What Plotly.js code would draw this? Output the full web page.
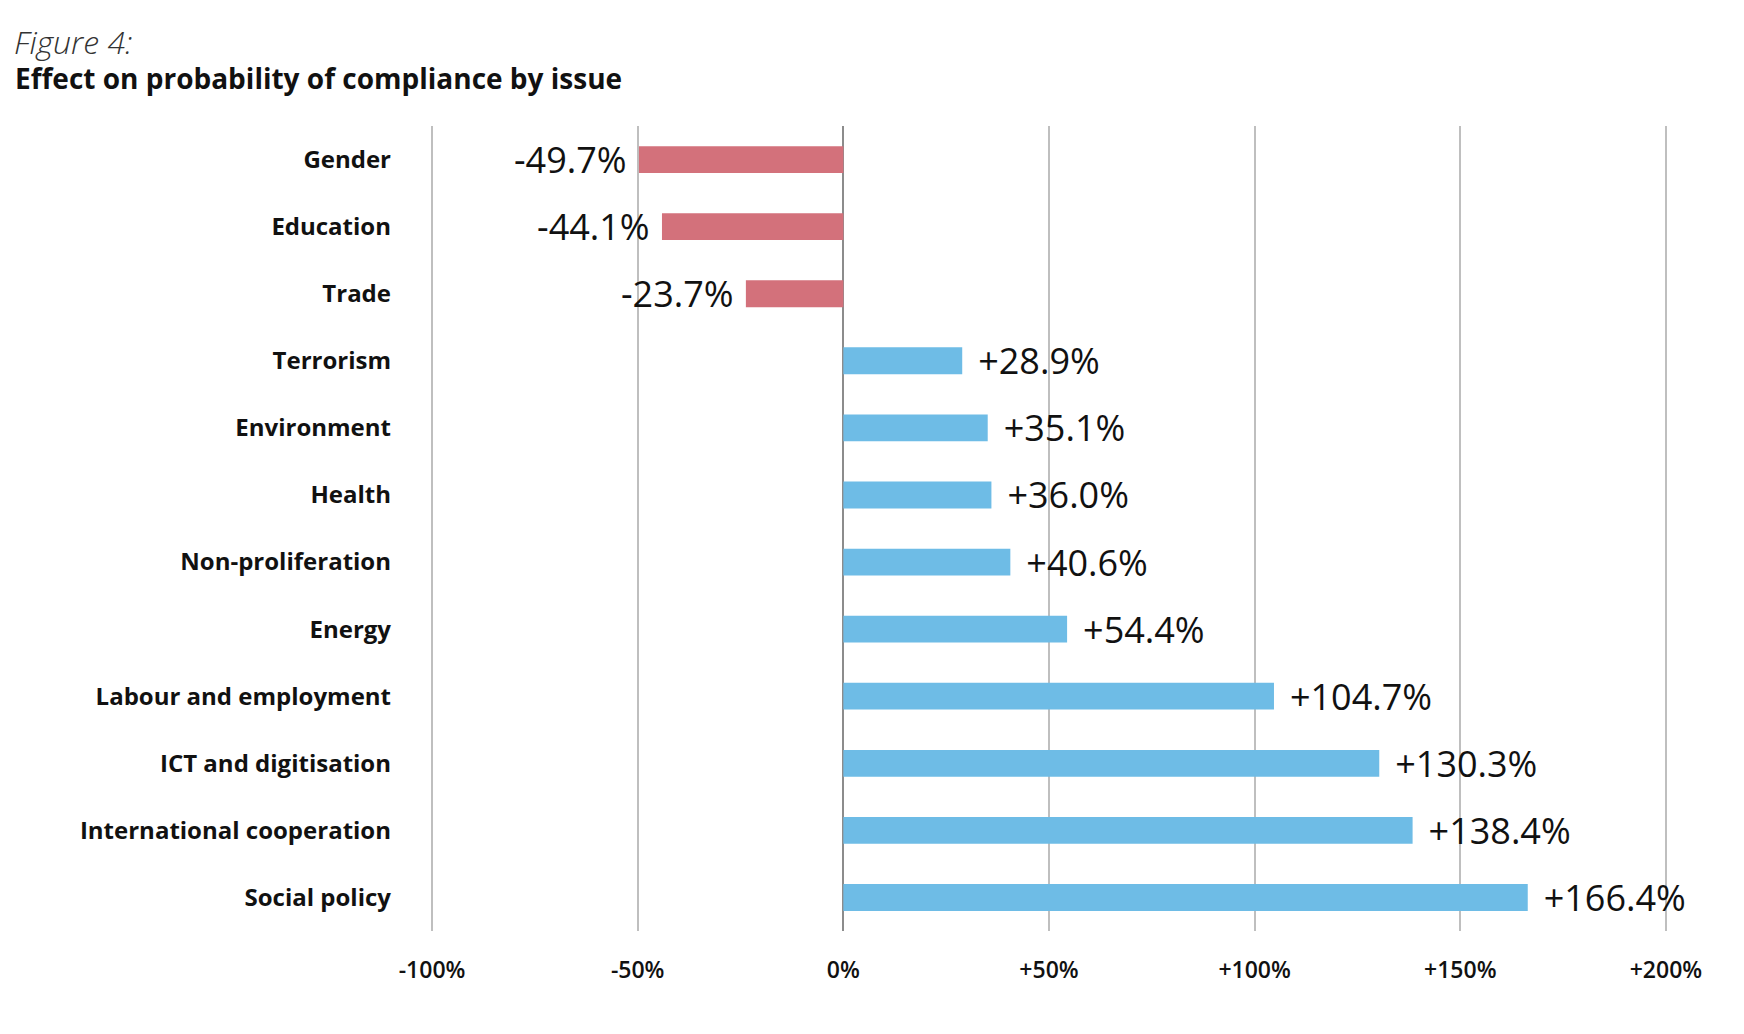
<!DOCTYPE html>
<html>
<head>
<meta charset="utf-8">
<script src="https://cdn.plot.ly/plotly-3.0.1.min.js"></script>
<style>
  html, body { margin: 0; padding: 0; background: #fff; }
  #grafico { width: 1744px; height: 1034px; }
</style>
</head>
<body>
<div id="grafico"></div>
<script>
var issues = ['Gender', 'Education', 'Trade', 'Terrorism', 'Environment', 'Health',
  'Non-proliferation', 'Energy', 'Labour and employment', 'ICT and digitisation',
  'International cooperation', 'Social policy'];
var effects = [-49.7, -44.1, -23.7, 28.9, 35.1, 36.0, 40.6, 54.4, 104.7, 130.3, 138.4, 166.4];
var tickVals = [-100, -50, 0, 50, 100, 150, 200];
var tickText = ['-100%', '-50%', '0%', '+50%', '+100%', '+150%', '+200%'];

var barColors = [];
var labels = [];
for (var i = 0; i < effects.length; i++) {
  if (effects[i] < 0) {
    barColors.push('#D3717B');
    labels.push(effects[i].toFixed(1) + '% ');
  } else {
    barColors.push('#6EBCE6');
    labels.push(' \u200A+' + effects[i].toFixed(1) + '%');
  }
}

var trace = {
  type: 'bar',
  orientation: 'h',
  x: effects,
  y: issues,
  marker: { color: barColors },
  text: labels,
  textposition: 'outside',
  constraintext: 'none',
  cliponaxis: false,
  textfont: { family: 'Open Sans', size: 36, color: '#111' },
  hoverinfo: 'skip'
};

var layout = {
  width: 1744,
  height: 1034,
  margin: { l: 430, r: 76, t: 126, b: 103 },
  paper_bgcolor: '#fff',
  plot_bgcolor: '#fff',
  showlegend: false,
  bargap: 0.6,
  font: { family: 'Open Sans', color: '#111' },
  title: {
    text: '<b>Effect on probability of compliance by issue</b>',
    font: { family: 'Open Sans', size: 28, color: '#111' },
    xref: 'container', x: 0.0086, xanchor: 'left',
    yref: 'container', y: 0.923, yanchor: 'middle'
  },
  annotations: [{
    text: 'Figure 4:',
    xref: 'paper', x: -0.3376, xanchor: 'left',
    yref: 'paper', y: 1.105, yanchor: 'middle',
    showarrow: false,
    font: { family: 'Open Sans', size: 32, color: '#333', style: 'italic', weight: 300 }
  }],
  xaxis: {
    range: [-100.5, 200.5],
    tickvals: tickVals,
    ticktext: tickText,
    showgrid: true,
    gridcolor: '#BFBFBF',
    gridwidth: 2,
    zeroline: true,
    zerolinecolor: '#8C8C8C',
    zerolinewidth: 2,
    showline: false,
    ticks: '',
    ticklabelstandoff: 23,
    tickfont: { family: 'Open Sans', size: 23, color: '#111', weight: 600 },
    fixedrange: true
  },
  yaxis: {
    autorange: 'reversed',
    showgrid: false,
    zeroline: false,
    showline: false,
    ticks: '',
    ticklabelstandoff: 38,
    tickfont: { family: 'Open Sans', size: 24, color: '#111', weight: 'bold' },
    fixedrange: true
  }
};

Plotly.newPlot('grafico', [trace], layout, { displayModeBar: false, staticPlot: true });
</script>
</body>
</html>
